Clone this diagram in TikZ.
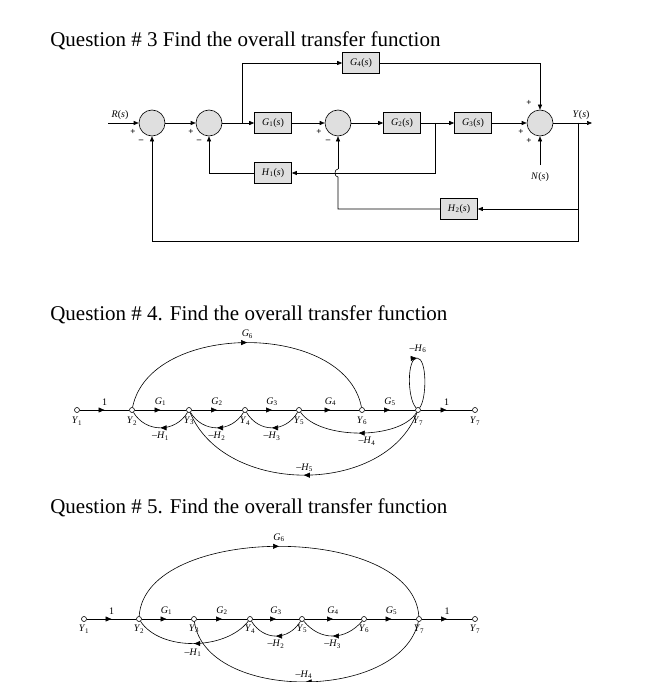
\documentclass[tikz,border=0pt]{standalone}
\usepackage{fontspec}
\setmainfont{Liberation Serif}
\usetikzlibrary{arrows.meta,decorations.markings}
\newcommand{\vr}[2]{\textit{#1}\textsubscript{#2}}
\newcommand{\tf}[2]{\textit{#1}\textsubscript{#2}(\textit{s})}
\begin{document}
\begin{tikzpicture}[x=1pt,y=-1pt,line width=0.6pt,
  every node/.style={font=\fontsize{9}{10}\selectfont},
  title/.style={anchor=base west,font=\fontsize{21}{24}\selectfont,inner sep=0},
  blk/.style={draw,fill=gray!25,minimum width=37,minimum height=21,inner sep=0,font=\fontsize{10}{11}\selectfont},
  sum/.style={circle,draw,fill=gray!25,minimum size=26,inner sep=0},
  sg/.style={font=\fontsize{9}{10}\selectfont\bfseries,inner sep=0},
  ar/.style={draw=black,-{Triangle[length=5,width=4]}},
  nd/.style={circle,draw,fill=white,minimum size=5,inner sep=0},
  lb/.style={font=\fontsize{10}{11}\selectfont,inner sep=1},
  mid/.style={postaction={decorate},decoration={markings,mark=at position #1 with {\arrow{Triangle[length=6,width=5]}}}},
  mid/.default=0.5]
\useasboundingbox (0,0) rectangle (657,682);
% ---------- Question 3
\node[title] (t3) at (50,47) {Question \# 3 Find the overall transfer function};
\node[sum] (s1) at (152,123) {};
\node[sum] (s2) at (209,123) {};
\node[sum] (s3) at (338,123) {};
\node[sum] (s4) at (540,123) {};
\node[blk] (g1) at (273,123) {\tf{G}{1}};
\node[blk] (g2) at (402,123) {\tf{G}{2}};
\node[blk] (g3) at (473,123) {\tf{G}{3}};
\node[blk] (g4) at (361,63) {\tf{G}{4}};
\node[blk] (h1) at (273,173) {\tf{H}{1}};
\node[blk] (h2) at (459,209) {\tf{H}{2}};
\coordinate (rin) at (108,123);
\coordinate (yout) at (592,123);
\coordinate (by) at (578,123);
\coordinate (bg4) at (242,123);
\coordinate (bg2) at (435,123);
\coordinate (nin) at (540,165);
\coordinate (j1) at (338,209);
\coordinate (j2) at (338,177);
\coordinate (j3) at (338,169);
\node[lb,anchor=south] (rl) at (120,121) {\textit{R}(\textit{s})};
\node[lb,anchor=south] (yl) at (581,121) {\textit{Y}(\textit{s})};
\node[lb] (nl) at (540,177) {\textit{N}(\textit{s})};
\draw[ar] (rin) -- (s1);
\draw[ar] (s1) -- (s2);
\draw[ar] (s2) -- (g1);
\draw[ar] (g1) -- (s3);
\draw[ar] (s3) -- (g2);
\draw[ar] (g2) -- (g3);
\draw[ar] (g3) -- (s4);
\draw[ar] (s4) -- (yout);
\draw[ar] (bg4) |- (g4);
\draw[ar] (g4) -| (s4);
\draw[ar] (nin) -- (s4);
\draw[ar] (bg2) |- (h1);
\draw[ar] (h1) -| (s2);
\draw[ar] (by) |- (h2);
\draw[draw=black] (h2.west) -- (j1) -- (j2) .. controls (334,177) and (334,169) .. (j3);
\draw[ar] (j3) -- (s3);
\draw[ar] (by) |- (152,241) -- (s1);
\node[sg] at (133,132) {+}; \node[sg] at (141,141) {–};
\node[sg] at (191,132) {+}; \node[sg] at (199,141) {–};
\node[sg] at (319,132) {+}; \node[sg] at (328,141) {–};
\node[sg] at (529,103) {+}; \node[sg] at (521,132) {+}; \node[sg] at (529,141) {+};
% ---------- Question 4
\node[title] (t4) at (50,320) {Question \# 4. Find the overall transfer function};
\foreach \n/\x in {1/77,2/132,3/189,4/245,5/299,6/362,7/418,8/475}{\node[nd] (a\n) at (\x,410) {};}
\foreach \n/\x/\t in {1/77/1,2/132/2,3/189/3,4/245/4,5/299/5,6/362/6,7/418/7,8/475/7}{\node[lb] (al\n) at (\x,421) {\vr{Y}{\t}};}
\draw[mid] (a1) -- node[lb,above=3] {1} (a2);
\draw[mid] (a2) -- node[lb,above=3] {\vr{G}{1}} (a3);
\draw[mid] (a3) -- node[lb,above=3] {\vr{G}{2}} (a4);
\draw[mid] (a4) -- node[lb,above=3] {\vr{G}{3}} (a5);
\draw[mid] (a5) -- node[lb,above=3] {\vr{G}{4}} (a6);
\draw[mid] (a6) -- node[lb,above=3] {\vr{G}{5}} (a7);
\draw[mid] (a7) -- node[lb,above=3] {1} (a8);
\draw[mid] (a2) .. controls (150,321) and (345,321) .. node[lb,above=3] {\vr{G}{6}} (a6);
\draw[mid] (a7) .. controls (407,398) and (407,358) .. (417,358) .. controls (427,358) and (427,398) .. (a7);
\node[lb] (h6) at (418,349) {–\vr{H}{6}};
\draw[mid] (a3) .. controls (175,433) and (146,433) .. node[lb,below=3] {–\vr{H}{1}} (a2);
\draw[mid] (a4) .. controls (231,433) and (203,433) .. node[lb,below=3] {–\vr{H}{2}} (a3);
\draw[mid] (a5) .. controls (285,433) and (259,433) .. node[lb,below=3] {–\vr{H}{3}} (a4);
\draw[mid] (a7) .. controls (400,440) and (320,440) .. node[lb,below=3,pos=0.45] {–\vr{H}{4}} (a5);
\draw[mid] (a7) .. controls (385,496) and (225,496) .. node[lb,above=2] {–\vr{H}{5}} (a3);
% ---------- Question 5
\node[title] (t5) at (50,513) {Question \# 5. Find the overall transfer function};
\foreach \n/\x in {1/84,2/139,3/194,4/250,5/302,6/364,7/419,8/475}{\node[nd] (b\n) at (\x,619) {};}
\foreach \n/\x/\t in {1/84/1,2/139/2,3/194/3,4/250/4,5/302/5,6/364/6,7/419/7,8/475/7}{\node[lb] (bl\n) at (\x,629) {\vr{Y}{\t}};}
\draw[mid] (b1) -- node[lb,above=3] {1} (b2);
\draw[mid] (b2) -- node[lb,above=3] {\vr{G}{1}} (b3);
\draw[mid] (b3) -- node[lb,above=3] {\vr{G}{2}} (b4);
\draw[mid] (b4) -- node[lb,above=3] {\vr{G}{3}} (b5);
\draw[mid] (b5) -- node[lb,above=3] {\vr{G}{4}} (b6);
\draw[mid] (b6) -- node[lb,above=3] {\vr{G}{5}} (b7);
\draw[mid] (b7) -- node[lb,above=3] {1} (b8);
\draw[mid] (b2) .. controls (145,523) and (413,523) .. node[lb,above=3] {\vr{G}{6}} (b7);
\draw[mid] (b4) .. controls (225,651) and (160,651) .. node[lb,below=4] {–\vr{H}{1}} (b2);
\draw[mid] (b5) .. controls (288,641) and (264,641) .. node[lb,below=3] {–\vr{H}{2}} (b4);
\draw[mid] (b6) .. controls (345,641) and (320,641) .. node[lb,below=3] {–\vr{H}{3}} (b5);
\draw[mid] (b7) .. controls (400,702) and (206,702) .. node[lb,above=2] {–\vr{H}{4}} (b3);
\end{tikzpicture}
\end{document}
